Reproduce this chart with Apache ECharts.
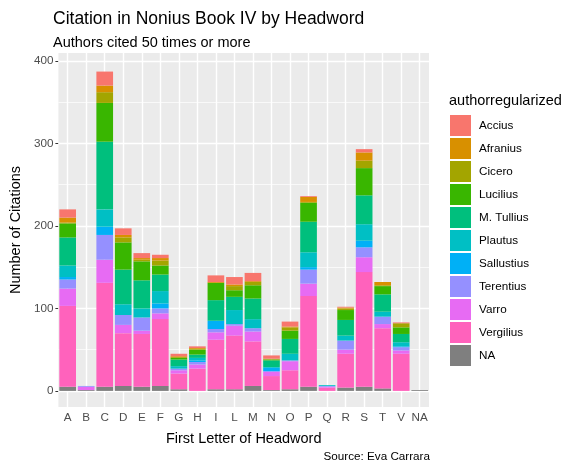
<!DOCTYPE html>
<html>
  <head>
    <meta charset="utf-8" />
    <script src="https://cdn.jsdelivr.net/npm/echarts@6.0.0/dist/echarts.min.js"></script>
    <style>
      html, body { margin: 0; padding: 0; background: #fff; }
    </style>
  </head>
  <body>
    <div id="main" style="width: 578px; height: 471px"></div>

    <script type="text/javascript">
      // first letters of the headwords
      var letters = ["A", "B", "C", "D", "E", "F", "G", "H", "I", "L", "M", "N", "O", "P", "Q", "R", "S", "T", "V", "NA"];

      // citations per author, same order as letters
      var naCounts      = [5, 1, 5, 6, 5, 6, 2, 0, 2, 2, 6, 1, 2, 5, 0, 4, 5, 3, 0, 1];
      var vergilius     = [98, 0, 126, 64, 64, 81, 19, 27, 60, 65, 54, 17, 23, 110, 4, 41, 139, 73, 45, 0];
      var varro         = [21, 4, 28, 10, 4, 7, 4, 5, 9, 12, 12, 5, 11, 15, 1, 5, 18, 5, 4, 0];
      var terentius     = [11, 1, 30, 12, 16, 6, 2, 3, 4, 2, 4, 1, 1, 17, 1, 11, 12, 9, 4, 0];
      var sallustius    = [3, 0, 10, 0, 0, 6, 0, 2, 10, 0, 0, 4, 0, 3, 0, 0, 8, 0, 1, 0];
      var plautus       = [14, 0, 21, 13, 11, 15, 3, 3, 0, 17, 11, 1, 8, 18, 1, 6, 20, 6, 5, 0];
      var mTullius      = [34, 0, 82, 42, 34, 20, 8, 4, 25, 16, 25, 8, 18, 37, 0, 19, 35, 21, 10, 0];
      var lucilius      = [17, 0, 47, 33, 23, 11, 2, 6, 21, 8, 16, 1, 10, 23, 0, 12, 33, 10, 8, 0];
      var cicero        = [1, 0, 13, 6, 2, 6, 1, 1, 0, 5, 4, 1, 4, 1, 0, 2, 9, 1, 5, 0];
      var afranius      = [6, 0, 8, 3, 2, 3, 1, 1, 1, 2, 1, 0, 1, 6, 0, 1, 10, 4, 0, 0];
      var accius        = [10, 0, 17, 8, 6, 4, 3, 2, 8, 9, 10, 4, 6, 1, 0, 1, 4, 0, 1, 0];

      var yTicks = [0, 100, 200, 300, 400];
      var yMinor = [50, 150, 250, 350];

      // bottom of the stack first
      var authors = [
        { name: "NA", values: naCounts, color: "#7F7F7F" },
        { name: "Vergilius", values: vergilius, color: "#FF62BC" },
        { name: "Varro", values: varro, color: "#E76BF3" },
        { name: "Terentius", values: terentius, color: "#9590FF" },
        { name: "Sallustius", values: sallustius, color: "#00B0F6" },
        { name: "Plautus", values: plautus, color: "#00BFC4" },
        { name: "M. Tullius", values: mTullius, color: "#00BF7D" },
        { name: "Lucilius", values: lucilius, color: "#39B600" },
        { name: "Cicero", values: cicero, color: "#A3A500" },
        { name: "Afranius", values: afranius, color: "#D89000" },
        { name: "Accius", values: accius, color: "#F8766D" }
      ];

      var font = "Liberation Sans, Arial, sans-serif";
      var myChart = echarts.init(document.getElementById("main"));

      var series = authors.map(function (a) {
        return {
          name: a.name,
          type: "bar",
          stack: "total",
          data: a.values,
          itemStyle: { color: a.color },
          barCategoryGap: "10%",
          z: 2
        };
      });

      // panel grid lines, drawn under the bars
      var gridLines = []
        .concat(yTicks.map(function (v) { return { yAxis: v, lineStyle: { width: 1.4 } }; }))
        .concat(yMinor.map(function (v) { return { yAxis: v, lineStyle: { width: 0.7 } }; }))
        .concat(letters.map(function (c) { return { xAxis: c, lineStyle: { width: 1.4 } }; }));

      series.push({
        name: "grid",
        type: "line",
        data: [],
        silent: true,
        z: 1,
        markLine: {
          silent: true,
          z: 1,
          symbol: ["none", "none"],
          label: { show: false },
          lineStyle: { color: "#ffffff", type: "solid" },
          emphasis: { disabled: true },
          animation: false,
          data: gridLines
        }
      });

      var option = {
        animation: false,
        textStyle: { fontFamily: font },
        title: [
          {
            text: "Citation in Nonius Book IV by Headword",
            subtext: "Authors cited 50 times or more",
            left: 48,
            top: 5,
            itemGap: 7,
            textStyle: { fontSize: 17.5, fontWeight: "normal", color: "#000" },
            subtextStyle: { fontSize: 14.5, color: "#000" }
          }
        ],
        graphic: [
          {
            type: "text",
            left: 449,
            top: 93,
            style: { text: "authorregularized", font: "14.5px " + font, fill: "#000" }
          },
          {
            type: "text",
            right: 148,
            top: 451,
            style: { text: "Source: Eva Carrara", font: "11.7px " + font, fill: "#000" }
          }
        ],
        legend: {
          data: authors.slice().reverse().map(function (a) { return a.name; }),
          orient: "vertical",
          left: 450,
          top: 115,
          itemWidth: 21,
          itemHeight: 21,
          itemGap: 2,
          icon: "rect",
          padding: 0,
          selectedMode: false,
          textStyle: { fontSize: 11.7, color: "#000", padding: [0, 0, 0, 3] }
        },
        grid: {
          left: 55,
          right: 149,
          top: 53,
          bottom: 64,
          show: true,
          backgroundColor: "#EBEBEB",
          borderWidth: 0
        },
        xAxis: {
          type: "category",
          data: letters,
          name: "First Letter of Headword",
          nameLocation: "middle",
          nameGap: 24,
          nameTextStyle: { fontSize: 14.5, color: "#000" },
          axisLine: { show: false },
          axisTick: { show: true, alignWithLabel: true, interval: 0, length: 3, lineStyle: { color: "#333" } },
          axisLabel: { fontSize: 11.7, color: "#4D4D4D", margin: 5, interval: 0 },
          splitLine: { show: false }
        },
        yAxis: {
          type: "value",
          min: -19.5,
          max: 409.5,
          name: "Number of Citations",
          nameLocation: "middle",
          nameGap: 34,
          nameTextStyle: { fontSize: 14.5, color: "#000" },
          axisLine: { show: false },
          axisTick: { show: true, length: 3, customValues: yTicks, lineStyle: { color: "#333" } },
          axisLabel: { fontSize: 11.7, color: "#4D4D4D", margin: 5, customValues: yTicks },
          splitLine: { show: false }
        },
        series: series
      };

      myChart.setOption(option);
    </script>
  </body>
</html>
